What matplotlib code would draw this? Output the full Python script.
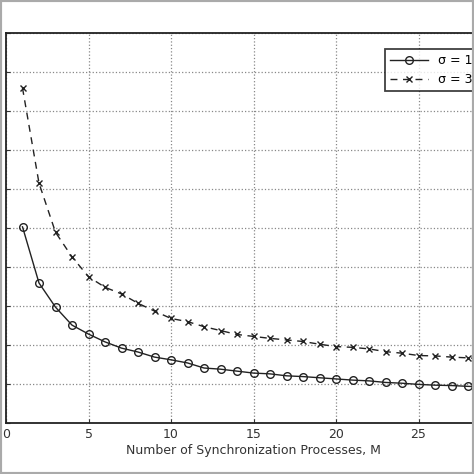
import matplotlib
matplotlib.use("Agg")
import matplotlib.pyplot as plt
import numpy as np

M = list(range(1, 31))
sigma1 = [5.03, 3.59, 2.97, 2.51, 2.28, 2.08, 1.92, 1.82, 1.69, 1.62, 1.54, 1.41, 1.38, 1.33, 1.28,
          1.26, 1.21, 1.19, 1.16, 1.13, 1.10, 1.08, 1.04, 1.02, 0.99, 0.97, 0.96, 0.94, 0.92, 0.90]
sigma3 = [8.59, 6.15, 4.89, 4.26, 3.75, 3.48, 3.31, 3.07, 2.87, 2.68, 2.60, 2.47, 2.37, 2.27, 2.22,
          2.17, 2.13, 2.09, 2.02, 1.96, 1.94, 1.90, 1.83, 1.79, 1.73, 1.72, 1.69, 1.67, 1.64, 1.61]
xticks = [0, 5, 10, 15, 20, 25, 30]

fig = plt.figure(figsize=(4.74, 4.74), dpi=100)
ax = fig.add_axes([6/474, 51/474, 495/474, 390/474])
ax.plot(M, sigma1, '-', color='#222222', lw=1, marker='o', ms=5.5, mfc='none', mec='#222222', label='σ = 1')
ax.plot(M, sigma3, '--', color='#222222', lw=1, marker='x', ms=5, mec='#222222', dashes=(5, 4), label='σ = 3')
ax.set_xlim(0, 30)
ax.set_ylim(0, 10)
ax.set_xticks(xticks)
ax.set_yticks(range(0, 11))
ax.set_yticklabels([])
ax.tick_params(direction='in', labelsize=9, colors='#333333', length=3)
ax.grid(True, linestyle=':', color='#888888', lw=0.9)
for s in ax.spines.values():
    s.set_linewidth(1.3)
    s.set_color('#222222')
ax.set_xlabel('Number of Synchronization Processes, M', fontsize=9, color='#333333', labelpad=2)
leg = ax.legend(loc='upper right', bbox_to_anchor=(0.965, 0.975), fontsize=9, frameon=True,
                fancybox=False, edgecolor='#111111', handlelength=3)
leg.get_frame().set_linewidth(1.3)
fig.patches.append(plt.Rectangle((0, 0), 1, 1, transform=fig.transFigure, fill=False,
                                 edgecolor='#aaaaaa', lw=3))
fig.savefig('out.png', dpi=100)
